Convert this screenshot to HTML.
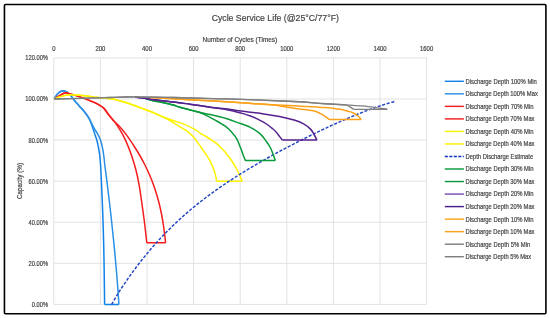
<!DOCTYPE html>
<html><head><meta charset="utf-8"><title>Cycle Service Life</title>
<style>
html,body{margin:0;padding:0;background:#fff;width:550px;height:318px;overflow:hidden}
svg{display:block;filter:blur(0.3px)}
text{font-family:'Liberation Sans', Arial, sans-serif}
</style></head><body>
<svg width="550" height="318" viewBox="0 0 550 318">
<rect x="0" y="0" width="550" height="318" fill="#ffffff"/>
<path d="M53.80,57.90V304.40 M100.40,57.90V304.40 M147.00,57.90V304.40 M193.60,57.90V304.40 M240.20,57.90V304.40 M286.80,57.90V304.40 M333.40,57.90V304.40 M380.00,57.90V304.40 M426.60,57.90V304.40 M53.80,304.40H426.60 M53.80,263.32H426.60 M53.80,222.23H426.60 M53.80,181.15H426.60 M53.80,140.07H426.60 M53.80,98.98H426.60 M53.80,57.90H426.60" stroke="#e2e2e2" stroke-width="1" fill="none"/>
<g font-family="'Liberation Sans', Arial, sans-serif">
<text x="275.30" y="21.40" font-size="9.50" textLength="127.31" lengthAdjust="spacingAndGlyphs" text-anchor="middle" fill="#454545" stroke="#454545" stroke-width="0.2" >Cycle Service Life (@25°C/77°F)</text>
<text x="239.90" y="41.60" font-size="6.98" textLength="74.72" lengthAdjust="spacingAndGlyphs" text-anchor="middle" fill="#454545" stroke="#454545" stroke-width="0.2" >Number of Cycles (Times)</text>
<text x="0.00" y="0.00" font-size="6.98" textLength="36.03" lengthAdjust="spacingAndGlyphs" text-anchor="middle" fill="#454545" stroke="#454545" stroke-width="0.2" transform="translate(21.5,181) rotate(-90)">Capacity (%)</text>
<text x="53.80" y="51.10" font-size="6.76" textLength="3.29" lengthAdjust="spacingAndGlyphs" text-anchor="middle" fill="#454545" stroke="#454545" stroke-width="0.2" >0</text>
<text x="100.40" y="51.10" font-size="6.76" textLength="9.88" lengthAdjust="spacingAndGlyphs" text-anchor="middle" fill="#454545" stroke="#454545" stroke-width="0.2" >200</text>
<text x="147.00" y="51.10" font-size="6.76" textLength="9.88" lengthAdjust="spacingAndGlyphs" text-anchor="middle" fill="#454545" stroke="#454545" stroke-width="0.2" >400</text>
<text x="193.60" y="51.10" font-size="6.76" textLength="9.88" lengthAdjust="spacingAndGlyphs" text-anchor="middle" fill="#454545" stroke="#454545" stroke-width="0.2" >600</text>
<text x="240.20" y="51.10" font-size="6.76" textLength="9.88" lengthAdjust="spacingAndGlyphs" text-anchor="middle" fill="#454545" stroke="#454545" stroke-width="0.2" >800</text>
<text x="286.80" y="51.10" font-size="6.76" textLength="13.18" lengthAdjust="spacingAndGlyphs" text-anchor="middle" fill="#454545" stroke="#454545" stroke-width="0.2" >1000</text>
<text x="333.40" y="51.10" font-size="6.76" textLength="13.18" lengthAdjust="spacingAndGlyphs" text-anchor="middle" fill="#454545" stroke="#454545" stroke-width="0.2" >1200</text>
<text x="380.00" y="51.10" font-size="6.76" textLength="13.18" lengthAdjust="spacingAndGlyphs" text-anchor="middle" fill="#454545" stroke="#454545" stroke-width="0.2" >1400</text>
<text x="426.60" y="51.10" font-size="6.76" textLength="13.18" lengthAdjust="spacingAndGlyphs" text-anchor="middle" fill="#454545" stroke="#454545" stroke-width="0.2" >1600</text>
<text x="48.00" y="306.90" font-size="6.76" textLength="16.17" lengthAdjust="spacingAndGlyphs" text-anchor="end" fill="#454545" stroke="#454545" stroke-width="0.2" >0.00%</text>
<text x="48.00" y="265.82" font-size="6.76" textLength="19.47" lengthAdjust="spacingAndGlyphs" text-anchor="end" fill="#454545" stroke="#454545" stroke-width="0.2" >20.00%</text>
<text x="48.00" y="224.73" font-size="6.76" textLength="19.47" lengthAdjust="spacingAndGlyphs" text-anchor="end" fill="#454545" stroke="#454545" stroke-width="0.2" >40.00%</text>
<text x="48.00" y="183.65" font-size="6.76" textLength="19.47" lengthAdjust="spacingAndGlyphs" text-anchor="end" fill="#454545" stroke="#454545" stroke-width="0.2" >60.00%</text>
<text x="48.00" y="142.57" font-size="6.76" textLength="19.47" lengthAdjust="spacingAndGlyphs" text-anchor="end" fill="#454545" stroke="#454545" stroke-width="0.2" >80.00%</text>
<text x="48.00" y="101.48" font-size="6.76" textLength="22.76" lengthAdjust="spacingAndGlyphs" text-anchor="end" fill="#454545" stroke="#454545" stroke-width="0.2" >100.00%</text>
<text x="48.00" y="60.40" font-size="6.76" textLength="22.76" lengthAdjust="spacingAndGlyphs" text-anchor="end" fill="#454545" stroke="#454545" stroke-width="0.2" >120.00%</text>
<path d="M444.8,81.30H463.9" stroke="#1282e8" stroke-width="1.45" fill="none"/>
<text x="465.50" y="83.70" font-size="6.76" textLength="71.34" lengthAdjust="spacingAndGlyphs" text-anchor="start" fill="#454545" stroke="#454545" stroke-width="0.2" >Discharge Depth 100% Min</text>
<path d="M444.8,93.83H463.9" stroke="#2a8fe6" stroke-width="1.45" fill="none"/>
<text x="465.50" y="96.23" font-size="6.76" textLength="72.31" lengthAdjust="spacingAndGlyphs" text-anchor="start" fill="#454545" stroke="#454545" stroke-width="0.2" >Discharge Depth 100% Max</text>
<path d="M444.8,106.36H463.9" stroke="#f51d1d" stroke-width="1.45" fill="none"/>
<text x="465.50" y="108.76" font-size="6.76" textLength="68.05" lengthAdjust="spacingAndGlyphs" text-anchor="start" fill="#454545" stroke="#454545" stroke-width="0.2" >Discharge Depth 70% Min</text>
<path d="M444.8,118.89H463.9" stroke="#f51d1d" stroke-width="1.45" fill="none"/>
<text x="465.50" y="121.29" font-size="6.76" textLength="69.01" lengthAdjust="spacingAndGlyphs" text-anchor="start" fill="#454545" stroke="#454545" stroke-width="0.2" >Discharge Depth 70% Max</text>
<path d="M444.8,131.42H463.9" stroke="#fbf200" stroke-width="1.45" fill="none"/>
<text x="465.50" y="133.82" font-size="6.76" textLength="68.05" lengthAdjust="spacingAndGlyphs" text-anchor="start" fill="#454545" stroke="#454545" stroke-width="0.2" >Discharge Depth 40% Min</text>
<path d="M444.8,143.95H463.9" stroke="#fbf200" stroke-width="1.45" fill="none"/>
<text x="465.50" y="146.35" font-size="6.76" textLength="69.01" lengthAdjust="spacingAndGlyphs" text-anchor="start" fill="#454545" stroke="#454545" stroke-width="0.2" >Discharge Depth 40% Max</text>
<path d="M444.8,156.48H463.9" stroke="#1232c0" stroke-width="1.4" fill="none" stroke-dasharray="3.1,1.4"/>
<text x="465.50" y="158.88" font-size="6.76" textLength="67.73" lengthAdjust="spacingAndGlyphs" text-anchor="start" fill="#454545" stroke="#454545" stroke-width="0.2" >Depth Discharge Estimate</text>
<path d="M444.8,169.01H463.9" stroke="#0a9a3c" stroke-width="1.45" fill="none"/>
<text x="465.50" y="171.41" font-size="6.76" textLength="68.05" lengthAdjust="spacingAndGlyphs" text-anchor="start" fill="#454545" stroke="#454545" stroke-width="0.2" >Discharge Depth 30% Min</text>
<path d="M444.8,181.54H463.9" stroke="#0a9a3c" stroke-width="1.45" fill="none"/>
<text x="465.50" y="183.94" font-size="6.76" textLength="69.01" lengthAdjust="spacingAndGlyphs" text-anchor="start" fill="#454545" stroke="#454545" stroke-width="0.2" >Discharge Depth 30% Max</text>
<path d="M444.8,194.07H463.9" stroke="#7850ae" stroke-width="1.45" fill="none"/>
<text x="465.50" y="196.47" font-size="6.76" textLength="68.05" lengthAdjust="spacingAndGlyphs" text-anchor="start" fill="#454545" stroke="#454545" stroke-width="0.2" >Discharge Depth 20% Min</text>
<path d="M444.8,206.60H463.9" stroke="#44208c" stroke-width="1.45" fill="none"/>
<text x="465.50" y="209.00" font-size="6.76" textLength="69.01" lengthAdjust="spacingAndGlyphs" text-anchor="start" fill="#454545" stroke="#454545" stroke-width="0.2" >Discharge Depth 20% Max</text>
<path d="M444.8,219.13H463.9" stroke="#fca21a" stroke-width="1.45" fill="none"/>
<text x="465.50" y="221.53" font-size="6.76" textLength="68.05" lengthAdjust="spacingAndGlyphs" text-anchor="start" fill="#454545" stroke="#454545" stroke-width="0.2" >Discharge Depth 10% Min</text>
<path d="M444.8,231.66H463.9" stroke="#fca21a" stroke-width="1.45" fill="none"/>
<text x="465.50" y="234.06" font-size="6.76" textLength="69.01" lengthAdjust="spacingAndGlyphs" text-anchor="start" fill="#454545" stroke="#454545" stroke-width="0.2" >Discharge Depth 10% Max</text>
<path d="M444.8,244.19H463.9" stroke="#7f7f7f" stroke-width="1.45" fill="none"/>
<text x="465.50" y="246.59" font-size="6.76" textLength="64.75" lengthAdjust="spacingAndGlyphs" text-anchor="start" fill="#454545" stroke="#454545" stroke-width="0.2" >Discharge Depth 5% Min</text>
<path d="M444.8,256.72H463.9" stroke="#7f7f7f" stroke-width="1.45" fill="none"/>
<text x="465.50" y="259.12" font-size="6.76" textLength="65.72" lengthAdjust="spacingAndGlyphs" text-anchor="start" fill="#454545" stroke="#454545" stroke-width="0.2" >Discharge Depth 5% Max</text>
</g>
<g fill="none" stroke-linejoin="round" stroke-linecap="butt">
<path d="M54.30,99.00 C54.70,98.32 55.85,96.05 56.70,94.90 C57.55,93.75 58.35,92.77 59.40,92.10 C60.45,91.43 61.80,90.95 63.00,90.90 C64.20,90.85 65.37,91.07 66.60,91.80 C67.83,92.53 69.12,93.90 70.40,95.30 C71.68,96.70 72.78,98.38 74.30,100.20 C75.82,102.02 77.72,104.15 79.50,106.20 C81.28,108.25 83.32,110.32 85.00,112.50 C86.68,114.68 88.33,116.78 89.60,119.30 C90.87,121.82 91.68,124.98 92.60,127.60 C93.52,130.22 94.37,132.82 95.10,135.00 C95.83,137.18 96.45,138.65 97.00,140.70 C97.55,142.75 97.93,144.78 98.40,147.30 C98.87,149.82 99.44,152.85 99.80,155.80 C100.16,158.75 100.30,160.73 100.57,165.00 C100.84,169.27 101.12,175.57 101.40,181.40 C101.68,187.23 101.97,193.57 102.23,200.00 C102.49,206.43 102.75,213.33 102.97,220.00 C103.19,226.67 103.39,233.33 103.56,240.00 C103.73,246.67 103.88,253.33 104.00,260.00 C104.12,266.67 104.20,272.60 104.30,280.00 C104.40,287.40 104.55,300.33 104.60,304.40 M104.60,304.40 L118.90,304.40" stroke="#1282e8" stroke-width="1.5"/>
<path d="M54.30,99.00 C54.70,98.32 55.85,96.05 56.70,94.90 C57.55,93.75 58.35,92.77 59.40,92.10 C60.45,91.43 61.80,90.95 63.00,90.90 C64.20,90.85 65.37,91.07 66.60,91.80 C67.83,92.53 69.12,93.90 70.40,95.30 C71.68,96.70 72.78,98.38 74.30,100.20 C75.82,102.02 77.72,104.15 79.50,106.20 C81.28,108.25 83.32,110.32 85.00,112.50 C86.68,114.68 88.13,116.78 89.60,119.30 C91.07,121.82 92.47,125.17 93.80,127.60 C95.13,130.03 96.50,131.87 97.60,133.90 C98.70,135.93 99.60,137.57 100.40,139.80 C101.20,142.03 101.83,144.63 102.40,147.30 C102.97,149.97 103.40,152.85 103.80,155.80 C104.20,158.75 104.28,160.73 104.80,165.00 C105.32,169.27 106.19,175.57 106.92,181.40 C107.65,187.23 108.43,193.57 109.18,200.00 C109.94,206.43 110.72,213.33 111.45,220.00 C112.18,226.67 112.87,233.33 113.54,240.00 C114.21,246.67 114.85,253.33 115.46,260.00 C116.07,266.67 116.63,272.60 117.20,280.00 C117.77,287.40 118.62,300.33 118.90,304.40" stroke="#2a8fe6" stroke-width="1.5"/>
<path d="M54.30,99.00 C55.17,98.45 57.73,96.72 59.50,95.70 C61.27,94.68 63.08,93.17 64.90,92.90 C66.72,92.63 68.02,93.48 70.40,94.10 C72.78,94.72 76.48,95.73 79.20,96.60 C81.92,97.47 83.77,98.13 86.70,99.30 C89.63,100.47 93.97,102.13 96.80,103.60 C99.63,105.07 101.82,106.37 103.70,108.10 C105.58,109.83 106.55,112.02 108.10,114.00 C109.65,115.98 111.58,118.23 113.00,120.00 C114.42,121.77 115.05,122.30 116.60,124.60 C118.15,126.90 120.63,130.80 122.30,133.80 C123.97,136.80 125.08,139.05 126.60,142.60 C128.12,146.15 129.83,150.50 131.40,155.10 C132.97,159.70 134.70,165.17 136.00,170.20 C137.30,175.23 138.30,180.33 139.20,185.30 C140.10,190.27 140.55,194.05 141.40,200.00 C142.25,205.95 143.40,213.87 144.30,221.00 C145.20,228.13 146.38,239.17 146.80,242.80 M146.80,242.80 L165.60,242.80" stroke="#f51d1d" stroke-width="1.5"/>
<path d="M54.30,99.00 C55.17,98.45 57.73,96.72 59.50,95.70 C61.27,94.68 63.08,93.17 64.90,92.90 C66.72,92.63 68.02,93.48 70.40,94.10 C72.78,94.72 76.48,95.73 79.20,96.60 C81.92,97.47 83.77,98.13 86.70,99.30 C89.63,100.47 93.97,102.13 96.80,103.60 C99.63,105.07 101.82,106.37 103.70,108.10 C105.58,109.83 106.55,112.02 108.10,114.00 C109.65,115.98 111.13,117.95 113.00,120.00 C114.87,122.05 117.03,123.78 119.30,126.30 C121.57,128.82 124.26,131.98 126.60,135.10 C128.94,138.22 131.19,141.68 133.35,145.00 C135.51,148.32 137.62,151.67 139.56,155.00 C141.50,158.33 143.29,161.67 144.96,165.00 C146.63,168.33 148.16,171.67 149.59,175.00 C151.02,178.33 152.32,181.67 153.53,185.00 C154.74,188.33 155.82,191.67 156.82,195.00 C157.82,198.33 158.71,201.67 159.52,205.00 C160.33,208.33 161.04,211.67 161.69,215.00 C162.34,218.33 162.90,221.67 163.40,225.00 C163.90,228.33 164.33,232.03 164.70,235.00 C165.07,237.97 165.45,241.50 165.60,242.80" stroke="#f51d1d" stroke-width="1.5"/>
<path d="M54.30,99.00 C54.83,98.77 56.33,98.03 57.50,97.60 C58.67,97.17 59.62,96.85 61.30,96.40 C62.98,95.95 65.03,95.15 67.60,94.90 C70.17,94.65 72.90,94.62 76.70,94.90 C80.50,95.18 85.80,96.07 90.40,96.60 C95.00,97.13 100.37,97.67 104.30,98.10 C108.23,98.53 110.28,98.43 114.00,99.20 C117.72,99.97 122.27,101.30 126.60,102.70 C130.93,104.10 136.20,106.22 140.00,107.60 C143.80,108.98 146.60,109.90 149.40,111.00 C152.20,112.10 154.53,113.20 156.80,114.20 C159.07,115.20 160.97,116.03 163.00,117.00 C165.03,117.97 166.75,118.72 169.00,120.00 C171.25,121.28 173.93,123.13 176.50,124.70 C179.07,126.27 182.28,128.03 184.40,129.40 C186.52,130.77 187.62,131.53 189.20,132.90 C190.78,134.27 192.50,136.02 193.90,137.60 C195.30,139.18 196.35,140.72 197.60,142.40 C198.85,144.08 200.00,145.68 201.40,147.70 C202.80,149.72 204.75,152.65 206.00,154.50 C207.25,156.35 207.80,156.82 208.90,158.80 C210.00,160.78 211.55,163.88 212.60,166.40 C213.65,168.92 214.52,171.43 215.20,173.90 C215.88,176.37 216.45,179.98 216.70,181.20 M216.70,181.20 L242.20,181.20" stroke="#fbf200" stroke-width="1.5"/>
<path d="M54.30,99.00 C54.83,98.77 56.33,98.03 57.50,97.60 C58.67,97.17 59.62,96.85 61.30,96.40 C62.98,95.95 65.03,95.15 67.60,94.90 C70.17,94.65 72.90,94.62 76.70,94.90 C80.50,95.18 85.80,96.07 90.40,96.60 C95.00,97.13 100.37,97.67 104.30,98.10 C108.23,98.53 110.28,98.43 114.00,99.20 C117.72,99.97 122.27,101.30 126.60,102.70 C130.93,104.10 136.20,106.22 140.00,107.60 C143.80,108.98 146.60,109.90 149.40,111.00 C152.20,112.10 154.53,113.20 156.80,114.20 C159.07,115.20 159.72,115.77 163.00,117.00 C166.28,118.23 172.83,120.33 176.50,121.60 C180.17,122.87 182.27,123.48 185.00,124.60 C187.73,125.72 190.95,127.30 192.90,128.30 C194.85,129.30 195.43,129.77 196.70,130.60 C197.97,131.43 198.93,132.32 200.50,133.30 C202.07,134.28 204.18,135.33 206.10,136.50 C208.02,137.67 210.28,139.15 212.00,140.30 C213.72,141.45 215.02,142.28 216.40,143.40 C217.78,144.52 219.03,145.77 220.30,147.00 C221.57,148.23 222.75,149.38 224.00,150.80 C225.25,152.22 226.55,153.88 227.80,155.50 C229.05,157.12 230.37,158.83 231.50,160.50 C232.63,162.17 233.65,163.92 234.60,165.50 C235.55,167.08 236.33,168.33 237.20,170.00 C238.07,171.67 238.97,173.63 239.80,175.50 C240.63,177.37 241.80,180.25 242.20,181.20" stroke="#fbf200" stroke-width="1.5"/>
<path d="M111.70,304.40 C112.75,302.59 115.62,297.36 118.00,293.53 C120.38,289.71 123.33,285.34 126.00,281.45 C128.67,277.57 131.33,273.84 134.00,270.22 C136.67,266.61 139.33,263.14 142.00,259.78 C144.67,256.42 147.33,253.19 150.00,250.06 C152.67,246.93 155.33,243.92 158.00,241.00 C160.67,238.08 163.33,235.27 166.00,232.54 C168.67,229.81 171.33,227.19 174.00,224.63 C176.67,222.08 179.33,219.61 182.00,217.22 C184.67,214.82 187.33,212.50 190.00,210.25 C192.67,207.99 195.33,205.81 198.00,203.68 C200.67,201.55 203.33,199.48 206.00,197.47 C208.67,195.45 211.33,193.49 214.00,191.58 C216.67,189.66 219.33,187.80 222.00,185.97 C224.67,184.14 227.33,182.36 230.00,180.61 C232.67,178.86 235.33,177.15 238.00,175.47 C240.67,173.79 243.33,172.15 246.00,170.53 C248.67,168.91 251.33,167.32 254.00,165.75 C256.67,164.18 259.33,162.65 262.00,161.13 C264.67,159.61 267.33,158.11 270.00,156.63 C272.67,155.15 275.33,153.70 278.00,152.25 C280.67,150.81 283.33,149.39 286.00,147.98 C288.67,146.58 291.33,145.19 294.00,143.81 C296.67,142.44 299.33,141.08 302.00,139.73 C304.67,138.39 307.33,137.06 310.00,135.74 C312.67,134.43 315.33,133.13 318.00,131.85 C320.67,130.57 323.33,129.30 326.00,128.05 C328.67,126.81 331.33,125.57 334.00,124.36 C336.67,123.15 339.33,121.96 342.00,120.79 C344.67,119.62 347.33,118.47 350.00,117.34 C352.67,116.22 355.33,115.11 358.00,114.04 C360.67,112.97 363.33,111.92 366.00,110.91 C368.67,109.90 371.33,108.92 374.00,107.97 C376.67,107.03 379.33,106.12 382.00,105.25 C384.67,104.38 387.88,103.41 390.00,102.77 C392.12,102.14 393.92,101.67 394.70,101.45" stroke="#2446c2" stroke-width="1.45" stroke-dasharray="3.1,1.6"/>
<path d="M143.60,97.90 C146.00,98.38 147.00,99.18 149.40,99.80 C151.80,100.42 154.85,100.93 158.00,101.60 C161.15,102.27 165.63,103.20 168.30,103.80 C170.97,104.40 172.05,104.62 174.00,105.20 C175.95,105.78 177.33,106.52 180.00,107.30 C182.67,108.08 186.80,109.07 190.00,109.90 C193.20,110.73 195.87,111.07 199.20,112.30 C202.53,113.53 207.20,115.92 210.00,117.30 C212.80,118.68 213.58,119.20 216.00,120.60 C218.42,122.00 222.35,124.25 224.50,125.70 C226.65,127.15 227.12,127.52 228.90,129.30 C230.68,131.08 233.72,134.45 235.20,136.40 C236.68,138.35 237.03,139.40 237.80,141.00 C238.57,142.60 239.17,144.42 239.80,146.00 C240.43,147.58 240.98,148.83 241.60,150.50 C242.22,152.17 242.85,154.32 243.50,156.00 C244.15,157.68 245.17,159.83 245.50,160.60 M245.50,160.60 L275.30,160.60" stroke="#0a9a3c" stroke-width="1.5"/>
<path d="M143.60,97.90 C146.00,98.38 147.00,99.18 149.40,99.80 C151.80,100.42 154.85,100.93 158.00,101.60 C161.15,102.27 165.63,103.20 168.30,103.80 C170.97,104.40 172.05,104.62 174.00,105.20 C175.95,105.78 177.33,106.52 180.00,107.30 C182.67,108.08 186.80,109.07 190.00,109.90 C193.20,110.73 195.43,111.43 199.20,112.30 C202.97,113.17 208.27,114.12 212.60,115.10 C216.93,116.08 221.02,116.95 225.20,118.20 C229.38,119.45 233.52,121.07 237.70,122.60 C241.88,124.13 246.58,125.57 250.30,127.40 C254.02,129.23 257.32,131.25 260.00,133.60 C262.68,135.95 264.68,139.18 266.40,141.50 C268.12,143.82 269.13,145.23 270.30,147.50 C271.47,149.77 272.57,152.92 273.40,155.10 C274.23,157.28 274.98,159.68 275.30,160.60" stroke="#0a9a3c" stroke-width="1.5"/>
<path d="M135.00,96.90 C139.25,97.32 145.20,98.65 151.70,99.50 C158.20,100.35 167.62,101.22 174.00,102.00 C180.38,102.78 185.80,103.62 190.00,104.20 C194.20,104.78 195.53,104.97 199.20,105.50 C202.87,106.03 207.70,106.77 212.00,107.40 C216.30,108.03 221.33,108.65 225.00,109.30 C228.67,109.95 230.97,110.58 234.00,111.30 C237.03,112.02 240.45,112.82 243.20,113.60 C245.95,114.38 248.08,115.08 250.50,116.00 C252.92,116.92 255.53,118.07 257.70,119.10 C259.87,120.13 261.68,121.13 263.50,122.20 C265.32,123.27 267.10,124.43 268.60,125.50 C270.10,126.57 271.28,127.55 272.50,128.60 C273.72,129.65 274.73,130.50 275.90,131.80 C277.07,133.10 278.40,135.02 279.50,136.40 C280.60,137.78 282.00,139.48 282.50,140.10 M282.50,140.10 L316.90,140.10" stroke="#55228e" stroke-width="1.5"/>
<path d="M135.00,96.90 C139.25,97.32 145.20,98.65 151.70,99.50 C158.20,100.35 167.62,101.22 174.00,102.00 C180.38,102.78 185.80,103.62 190.00,104.20 C194.20,104.78 195.53,104.97 199.20,105.50 C202.87,106.03 207.70,106.85 212.00,107.40 C216.30,107.95 221.33,108.35 225.00,108.80 C228.67,109.25 230.97,109.68 234.00,110.10 C237.03,110.52 238.63,110.72 243.20,111.30 C247.77,111.88 255.35,112.75 261.40,113.60 C267.45,114.45 274.05,115.33 279.50,116.40 C284.95,117.47 290.15,118.80 294.10,120.00 C298.05,121.20 300.47,122.08 303.20,123.60 C305.93,125.12 308.68,127.28 310.50,129.10 C312.32,130.92 313.03,132.67 314.10,134.50 C315.17,136.33 316.43,139.17 316.90,140.10" stroke="#55228e" stroke-width="1.5"/>
<path d="M150.00,97.50 C156.50,97.82 165.00,98.30 174.00,98.80 C183.00,99.30 194.00,99.93 204.00,100.50 C214.00,101.07 226.00,101.72 234.00,102.20 C242.00,102.68 245.72,102.97 252.00,103.40 C258.28,103.83 264.70,104.00 271.70,104.80 C278.70,105.60 288.18,107.37 294.00,108.20 C299.82,109.03 303.08,109.28 306.60,109.80 C310.12,110.32 313.00,110.77 315.10,111.30 C317.20,111.83 317.95,112.45 319.20,113.00 C320.45,113.55 321.57,113.98 322.60,114.60 C323.63,115.22 324.27,115.88 325.40,116.70 C326.53,117.52 328.73,119.03 329.40,119.50 M329.40,119.50 L361.20,119.50" stroke="#fca21a" stroke-width="1.5"/>
<path d="M150.00,97.50 C156.50,97.82 165.00,98.30 174.00,98.80 C183.00,99.30 194.00,99.93 204.00,100.50 C214.00,101.07 226.00,101.72 234.00,102.20 C242.00,102.68 245.72,102.97 252.00,103.40 C258.28,103.83 264.70,104.42 271.70,104.80 C278.70,105.18 286.08,105.28 294.00,105.70 C301.92,106.12 313.20,106.93 319.20,107.30 C325.20,107.67 326.87,107.60 330.00,107.90 C333.13,108.20 335.88,108.80 338.00,109.10 C340.12,109.40 341.07,109.35 342.70,109.70 C344.33,110.05 346.10,110.68 347.80,111.20 C349.50,111.72 351.20,112.00 352.90,112.80 C354.60,113.60 356.62,114.88 358.00,116.00 C359.38,117.12 360.67,118.92 361.20,119.50" stroke="#fca21a" stroke-width="1.5"/>
<path d="M54.30,99.00 C58.58,98.88 71.72,98.53 80.00,98.30 C88.28,98.07 98.33,97.75 104.00,97.60 C109.67,97.45 110.30,97.50 114.00,97.40 C117.70,97.30 122.70,97.08 126.20,97.00 C129.70,96.92 131.03,96.88 135.00,96.90 C138.97,96.92 143.50,97.00 150.00,97.10 C156.50,97.20 160.00,97.15 174.00,97.50 C188.00,97.85 214.00,98.53 234.00,99.20 C254.00,99.87 279.80,100.82 294.00,101.50 C308.20,102.18 313.20,102.88 319.20,103.30 C325.20,103.72 325.65,103.73 330.00,104.00 C334.35,104.27 341.90,104.38 345.30,104.90 C348.70,105.42 349.03,106.37 350.40,107.10 C351.77,107.83 352.98,108.93 353.50,109.30 M353.50,109.30 L387.30,109.30" stroke="#7f7f7f" stroke-width="1.3"/>
<path d="M54.30,99.00 C58.58,98.88 71.72,98.53 80.00,98.30 C88.28,98.07 98.33,97.75 104.00,97.60 C109.67,97.45 110.30,97.50 114.00,97.40 C117.70,97.30 122.70,97.08 126.20,97.00 C129.70,96.92 131.03,96.88 135.00,96.90 C138.97,96.92 143.50,97.00 150.00,97.10 C156.50,97.20 160.00,97.15 174.00,97.50 C188.00,97.85 214.00,98.53 234.00,99.20 C254.00,99.87 279.80,100.82 294.00,101.50 C308.20,102.18 313.20,102.88 319.20,103.30 C325.20,103.72 325.65,103.73 330.00,104.00 C334.35,104.27 338.93,104.47 345.30,104.90 C351.67,105.33 361.20,105.87 368.20,106.60 C375.20,107.33 384.12,108.85 387.30,109.30" stroke="#7f7f7f" stroke-width="1.3"/>
</g>
<rect x="4.45" y="4.5" width="541.45" height="309.3" rx="1" ry="1" fill="none" stroke="#000" stroke-width="1.6"/>
</svg>
</body></html>
